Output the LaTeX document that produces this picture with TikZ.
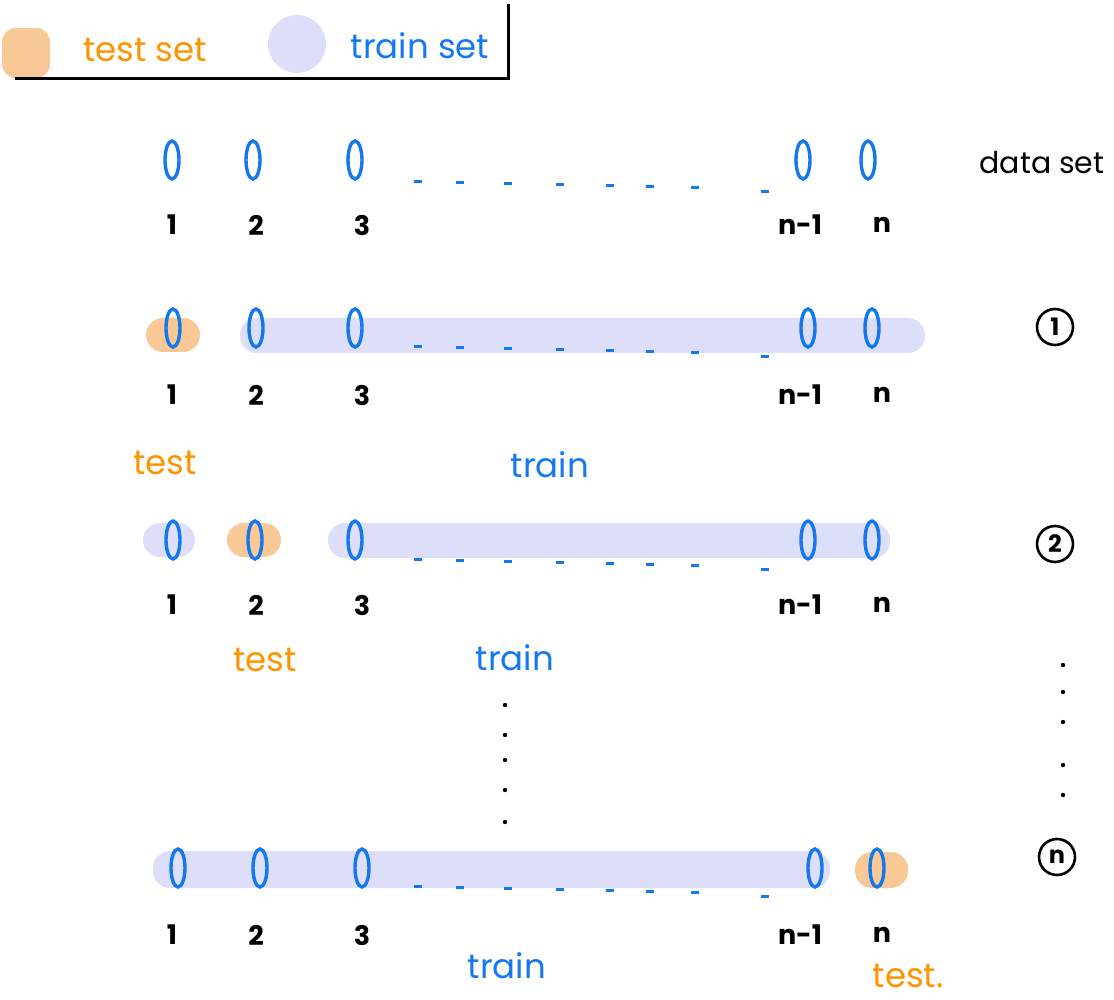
\documentclass[tikz,border=0pt]{standalone}
\usepackage{fontspec}
\setmainfont{Poppins}
\usetikzlibrary{shapes.geometric}
\definecolor{zblue}{RGB}{20,120,240}
\definecolor{tblue}{RGB}{220,222,250}
\definecolor{torange}{RGB}{248,200,150}
\begin{document}
\begin{tikzpicture}[x=1pt,y=-1pt,
  zero/.style={draw=zblue,line width=3.4pt,ellipse,minimum width=14pt,minimum height=38pt,inner sep=0pt},
  tblob/.style={fill=torange,rounded corners=17pt},
  bbar/.style={fill=tblue,rounded corners=17pt},
  lab/.style={font=\fontsize{27}{27}\selectfont\bfseries},
  olab/.style={font=\fontsize{34}{34}\selectfont,text=orange!85!yellow},
  blab/.style={font=\fontsize{34}{34}\selectfont,text=zblue},
  cnum/.style={draw,circle,line width=2.6pt,minimum size=36pt,inner sep=0pt,font=\fontsize{24}{24}\selectfont\bfseries}]
\useasboundingbox (0,0) rectangle (1114,1000);
% legend
\fill[torange,rounded corners=14pt] (2,28) rectangle (50,78);
\fill[tblue] (297,44) circle (29);
\node[olab] (lt) at (145,50) {test set};
\node[blab] (lb) at (420,46) {train set};
\draw[line width=3pt] (15,79) -- (508,79) -- (508,4);
\newcommand{\dotsrow}[1]{\foreach \x/\d in {418/0,460/1,508/2,560/3,610/4,650/5,695/6,765/10}{\fill[zblue] (\x-4,#1+\d) rectangle (\x+4,#1+\d+3);}}
\newcommand{\labsrow}[1]{\node[lab] at (172,#1) {1};\node[lab] at (256,#1) {2};\node[lab] at (362,#1) {3};\node[lab] at (800,#1) {n-1};\node[lab] at (882,#1) {n};}
% row 0
\foreach \x/\n in {172/a,253/b,355/c,803/d,868/e}{\node[zero] (r0\n) at (\x,160) {};}
\dotsrow{180}\labsrow{225}
\node[font=\fontsize{30}{30}\selectfont] (ds) at (1042,163) {data set};
% row 1
\fill[tblob] (146,318) rectangle (200,352);
\fill[bbar] (240,318) rectangle (925,353);
\foreach \x/\n in {173/a,256/b,355/c,808/d,872/e}{\node[zero] (r1\n) at (\x,328) {};}
\dotsrow{345}\labsrow{395}
\node[olab] (t1) at (165,463) {test};
\node[blab] (tr1) at (550,465) {train};
\node[cnum] (c1) at (1055,327) {1};
% row 2
\fill[bbar] (143,523) rectangle (195,557);
\fill[tblob] (227,523) rectangle (281,557);
\fill[bbar] (328,523) rectangle (890,558);
\foreach \x/\n in {173/a,255/b,355/c,808/d,872/e}{\node[zero] (r2\n) at (\x,540) {};}
\dotsrow{558}\labsrow{605}
\node[olab] (t2) at (265,660) {test};
\node[blab] (tr2) at (515,658) {train};
\node[cnum] (c2) at (1055,544) {2};
\foreach \y in {705,735,760,790,822}{\fill (505,\y) circle (2.2);}
\foreach \y in {665,692,722,765,795}{\fill (1063,\y) circle (2.2);}
% row n
\fill[bbar] (153,851) rectangle (830,888);
\fill[tblob] (855,852) rectangle (908,888);
\foreach \x/\n in {178/a,260/b,362/c,815/d,877/e}{\node[zero] (rn\n) at (\x,868) {};}
\dotsrow{885}\labsrow{935}
\node[blab] (trn) at (507,966) {train};
\node[olab] (tn) at (908,976) {test.};
\node[cnum] (cn) at (1057,857) {n};
\end{tikzpicture}
\end{document}
